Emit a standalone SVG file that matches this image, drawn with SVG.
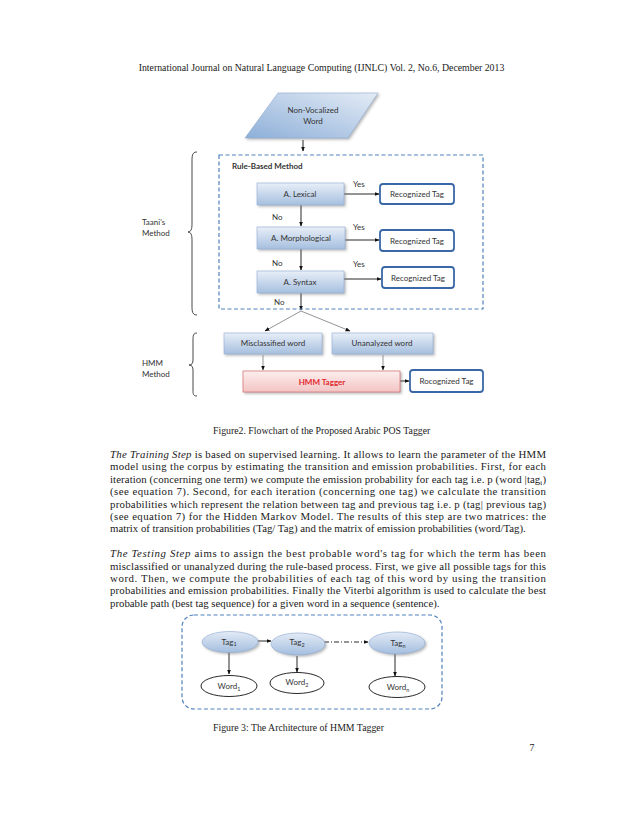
<svg xmlns="http://www.w3.org/2000/svg" width="638" height="826" viewBox="0 0 638 826">
<style>
.serif{font-family:"Liberation Serif","Times New Roman",serif;fill:#1a1a1a}
.hd{font-size:9.8px}
.body{font-size:10.8px}
.cap{font-size:9.8px}
.lab{font-family:Lato,"Open Sans","Liberation Sans",sans-serif;font-size:8px;fill:#333}
.bold{font-weight:bold}
.box{fill:url(#gBlue);stroke:#8eaad0;stroke-width:0.6;filter:url(#sh)}
.rt{fill:#fff;stroke:#3a68a6;stroke-width:1.8}
.dash{fill:none;stroke:#4f81bd;stroke-width:1.2;stroke-dasharray:4 2.5}
.ln{fill:none;stroke:#111;stroke-width:0.9}
.gl{fill:none;stroke:#888;stroke-width:0.9}
.brace{fill:none;stroke:#333;stroke-width:0.9}
</style>
<defs>
<linearGradient id="gBlue" x1="0" y1="0" x2="0" y2="1">
<stop offset="0" stop-color="#e8eff8"/><stop offset="1" stop-color="#a6bfdf"/>
</linearGradient>
<linearGradient id="gPara" x1="1" y1="0" x2="0" y2="1">
<stop offset="0" stop-color="#e4ecf6"/><stop offset="1" stop-color="#8dafd8"/>
</linearGradient>
<linearGradient id="gPink" x1="0" y1="0" x2="0" y2="1">
<stop offset="0" stop-color="#fdeeee"/><stop offset="1" stop-color="#f3c4c4"/>
</linearGradient>
<linearGradient id="gEll" x1="0" y1="0" x2="0" y2="1">
<stop offset="0" stop-color="#e3ebf6"/><stop offset="1" stop-color="#a4bedf"/>
</linearGradient>
<filter id="sh" x="-10%" y="-20%" width="130%" height="160%">
<feDropShadow dx="1.5" dy="1.5" stdDeviation="0.8" flood-color="#777" flood-opacity="0.5"/>
</filter>
<marker id="ah" viewBox="0 0 10 10" refX="9" refY="5" markerWidth="5" markerHeight="5" orient="auto" markerUnits="userSpaceOnUse">
<path d="M0,1 L10,5 L0,9 z" fill="#111"/>
</marker>
</defs>

<rect x="0" y="0" width="638" height="826" fill="#fff"/>

<text class="serif hd" x="321.5" y="71" text-anchor="middle">International Journal on Natural Language Computing (IJNLC) Vol. 2, No.6, December 2013</text>

<!-- Figure 2 -->
<g id="connectors">
<line class="ln" x1="303" y1="140" x2="303" y2="151" marker-end="url(#ah)"/>
<line class="ln" x1="301" y1="205" x2="301" y2="226" marker-end="url(#ah)"/>
<line class="ln" x1="301" y1="249" x2="301" y2="270" marker-end="url(#ah)"/>
<line class="ln" x1="301" y1="293" x2="301" y2="310" marker-end="url(#ah)"/>
<line class="ln" x1="344" y1="194" x2="379" y2="194" marker-end="url(#ah)"/>
<line class="ln" x1="345" y1="240" x2="379" y2="240" marker-end="url(#ah)"/>
<line class="ln" x1="344" y1="279" x2="381" y2="279" marker-end="url(#ah)"/>
<line class="gl" x1="301" y1="311" x2="265" y2="331" marker-end="url(#ah)"/>
<line class="gl" x1="301" y1="311" x2="350" y2="331" marker-end="url(#ah)"/>
<line class="gl" x1="263" y1="355" x2="263" y2="370" marker-end="url(#ah)"/>
<line class="gl" x1="383" y1="355" x2="383" y2="370" marker-end="url(#ah)"/>
<line class="ln" x1="400" y1="381" x2="409" y2="381" marker-end="url(#ah)"/>
<!-- Figure 3 connectors -->
<line class="ln" x1="258" y1="641" x2="271" y2="641" marker-end="url(#ah)"/>
<line class="ln" x1="324" y1="642" x2="368" y2="642" stroke-dasharray="5 2 1 2" stroke="#555" marker-end="url(#ah)"/>
<line class="ln" x1="229" y1="652" x2="229" y2="674" marker-end="url(#ah)"/>
<line class="ln" x1="297" y1="656" x2="297" y2="672" marker-end="url(#ah)"/>
<line class="ln" x1="395" y1="654" x2="395" y2="676" marker-end="url(#ah)"/>
</g>

<g id="labels">
<text class="lab" x="353" y="187">Yes</text>
<text class="lab" x="353" y="230">Yes</text>
<text class="lab" x="353" y="267">Yes</text>
<text class="lab" x="272" y="220">No</text>
<text class="lab" x="272" y="266">No</text>
<text class="lab" x="274" y="305">No</text>
</g>

<g id="nonVocalized">
<path d="M278,93 L378,93 L348,138 L245,138 Z" fill="url(#gPara)" stroke="#8eaad0" stroke-width="0.6" filter="url(#sh)"/>
<text class="lab" x="313" y="113" text-anchor="middle">Non-Vocalized</text>
<text class="lab" x="313" y="124" text-anchor="middle">Word</text>
</g>

<g id="ruleBased">
<rect class="dash" x="219" y="155" width="264" height="154"/>
<text class="lab bold" x="232" y="169">Rule-Based Method</text>
</g>

<g id="lexical">
<rect class="box" x="257" y="183" width="87" height="22"/>
<text class="lab" x="300" y="196.5" text-anchor="middle">A. Lexical</text>
</g>
<g id="morphological">
<rect class="box" x="257" y="227" width="88" height="22"/>
<text class="lab" x="301" y="240.5" text-anchor="middle">A. Morphological</text>
</g>
<g id="syntax">
<rect class="box" x="257" y="271" width="87" height="22"/>
<text class="lab" x="300" y="284.5" text-anchor="middle">A. Syntax</text>
</g>

<g id="recTag1">
<rect class="rt" x="380" y="184" width="74" height="20" rx="3"/>
<text class="lab" x="417" y="197" text-anchor="middle">Recognized Tag</text>
</g>
<g id="recTag2">
<rect class="rt" x="380" y="230" width="74" height="21" rx="3"/>
<text class="lab" x="417" y="243.5" text-anchor="middle">Recognized Tag</text>
</g>
<g id="recTag3">
<rect class="rt" x="382" y="267" width="72" height="21" rx="3"/>
<text class="lab" x="418" y="280.5" text-anchor="middle">Recognized Tag</text>
</g>

<g id="misclassified">
<rect class="box" x="224" y="333" width="98" height="21"/>
<text class="lab" x="273" y="346" text-anchor="middle">Misclassified word</text>
</g>
<g id="unanalyzed">
<rect class="box" x="332" y="333" width="101" height="21"/>
<text class="lab" x="382" y="346" text-anchor="middle">Unanalyzed word</text>
</g>

<g id="hmmTagger">
<rect x="243" y="371" width="157" height="21" fill="url(#gPink)" stroke="#d06a6a" stroke-width="0.7" filter="url(#sh)"/>
<text class="lab bold" x="322" y="384.5" text-anchor="middle" style="fill:#e0262b">HMM Tagger</text>
</g>
<g id="recTag4">
<rect class="rt" x="410" y="370" width="73" height="22" rx="3"/>
<text class="lab" x="446.5" y="384" text-anchor="middle">Rocognized Tag</text>
</g>

<g id="taaniMethod">
<path class="brace" d="M197,152 C192,152 192,156 192,162 L192,224 C192,229 191,232 188,232 C191,232 192,235 192,240 L192,305 C192,311 192,315 197,315"/>
<text class="lab" x="142" y="225">Taani's</text>
<text class="lab" x="142" y="236">Method</text>
</g>
<g id="hmmMethod">
<path class="brace" d="M197,333 C193,333 193,336 193,341 L193,360 C193,363 192,365 189,365 C192,365 193,367 193,370 L193,390 C193,394 193,396 197,396"/>
<text class="lab" x="142" y="366">HMM</text>
<text class="lab" x="142" y="377">Method</text>
</g>

<text class="serif cap" x="213" y="434">Figure2. Flowchart of the Proposed Arabic POS Tagger</text>

<!-- Paragraphs -->
<g class="serif body">
<text x="110" y="458" textLength="436" lengthAdjust="spacing"><tspan font-style="italic">The Training Step</tspan> is based on supervised learning. It allows to learn the parameter of the HMM</text>
<text x="110" y="470.4" textLength="436" lengthAdjust="spacing">model using the corpus by estimating the transition and emission probabilities. First, for each</text>
<text x="110" y="482.8" textLength="436" lengthAdjust="spacing">iteration (concerning one term) we compute the emission probability for each tag i.e. p (word |tag<tspan font-size="7" dy="2">i</tspan><tspan dy="-2">)</tspan></text>
<text x="110" y="495.2" textLength="436" lengthAdjust="spacing">(see equation 7). Second, for each iteration (concerning one tag) we calculate the transition</text>
<text x="110" y="507.6" textLength="436" lengthAdjust="spacing">probabilities which represent the relation between tag and previous tag i.e. p (tag| previous tag)</text>
<text x="110" y="520" textLength="436" lengthAdjust="spacing">(see equation 7) for the Hidden Markov Model. The results of this step are two matrices: the</text>
<text x="110" y="532.4">matrix of transition probabilities (Tag/ Tag) and the matrix of emission probabilities (word/Tag).</text>

<text x="110" y="557.2" textLength="436" lengthAdjust="spacing"><tspan font-style="italic">The Testing Step</tspan> aims to assign the best probable word's tag for which the term has been</text>
<text x="110" y="569.6" textLength="436" lengthAdjust="spacing">misclassified or unanalyzed during the rule-based process. First, we give all possible tags for this</text>
<text x="110" y="582" textLength="436" lengthAdjust="spacing">word. Then, we compute the probabilities of each tag of this word by using the transition</text>
<text x="110" y="594.4" textLength="436" lengthAdjust="spacing">probabilities and emission probabilities. Finally the Viterbi algorithm is used to calculate the best</text>
<text x="110" y="606.8">probable path (best tag sequence) for a given word in a sequence (sentence).</text>
</g>

<!-- Figure 3 -->
<g id="hmmArchitecture">
<rect class="dash" x="182" y="615" width="260" height="94" rx="12"/>
</g>
<g id="tag1">
<ellipse cx="230" cy="642" rx="28" ry="10.5" fill="url(#gEll)" stroke="#8eaad0" stroke-width="0.6" filter="url(#sh)"/>
<text class="lab" x="229" y="644.5" text-anchor="middle">Tag<tspan font-size="5.5" dy="1.5">1</tspan></text>
</g>
<g id="tag2">
<ellipse cx="298" cy="644" rx="27" ry="11" fill="url(#gEll)" stroke="#8eaad0" stroke-width="0.6" filter="url(#sh)"/>
<text class="lab" x="297" y="645" text-anchor="middle">Tag<tspan font-size="5.5" dy="1.5">2</tspan></text>
</g>
<g id="tagN">
<ellipse cx="397" cy="643" rx="28" ry="11" fill="url(#gEll)" stroke="#8eaad0" stroke-width="0.6" filter="url(#sh)"/>
<text class="lab" x="398" y="646" text-anchor="middle">Tag<tspan font-size="5.5" dy="1.5">n</tspan></text>
</g>
<g id="word1">
<ellipse cx="229" cy="686" rx="28" ry="10.5" fill="#fff" stroke="#111" stroke-width="0.9"/>
<text class="lab" x="229" y="689" text-anchor="middle">Word<tspan font-size="5.5" dy="1.5">1</tspan></text>
</g>
<g id="word2">
<ellipse cx="297" cy="683" rx="27" ry="10.5" fill="#fff" stroke="#111" stroke-width="0.9"/>
<text class="lab" x="297" y="685" text-anchor="middle">Word<tspan font-size="5.5" dy="1.5">2</tspan></text>
</g>
<g id="wordN">
<ellipse cx="397" cy="687" rx="28" ry="10.5" fill="#fff" stroke="#111" stroke-width="0.9"/>
<text class="lab" x="398" y="690" text-anchor="middle">Word<tspan font-size="5.5" dy="1.5">n</tspan></text>
</g>

<text class="serif cap" x="213" y="731">Figure 3: The Architecture of HMM Tagger</text>
<text class="serif cap" x="532" y="751" text-anchor="middle">7</text>
</svg>
